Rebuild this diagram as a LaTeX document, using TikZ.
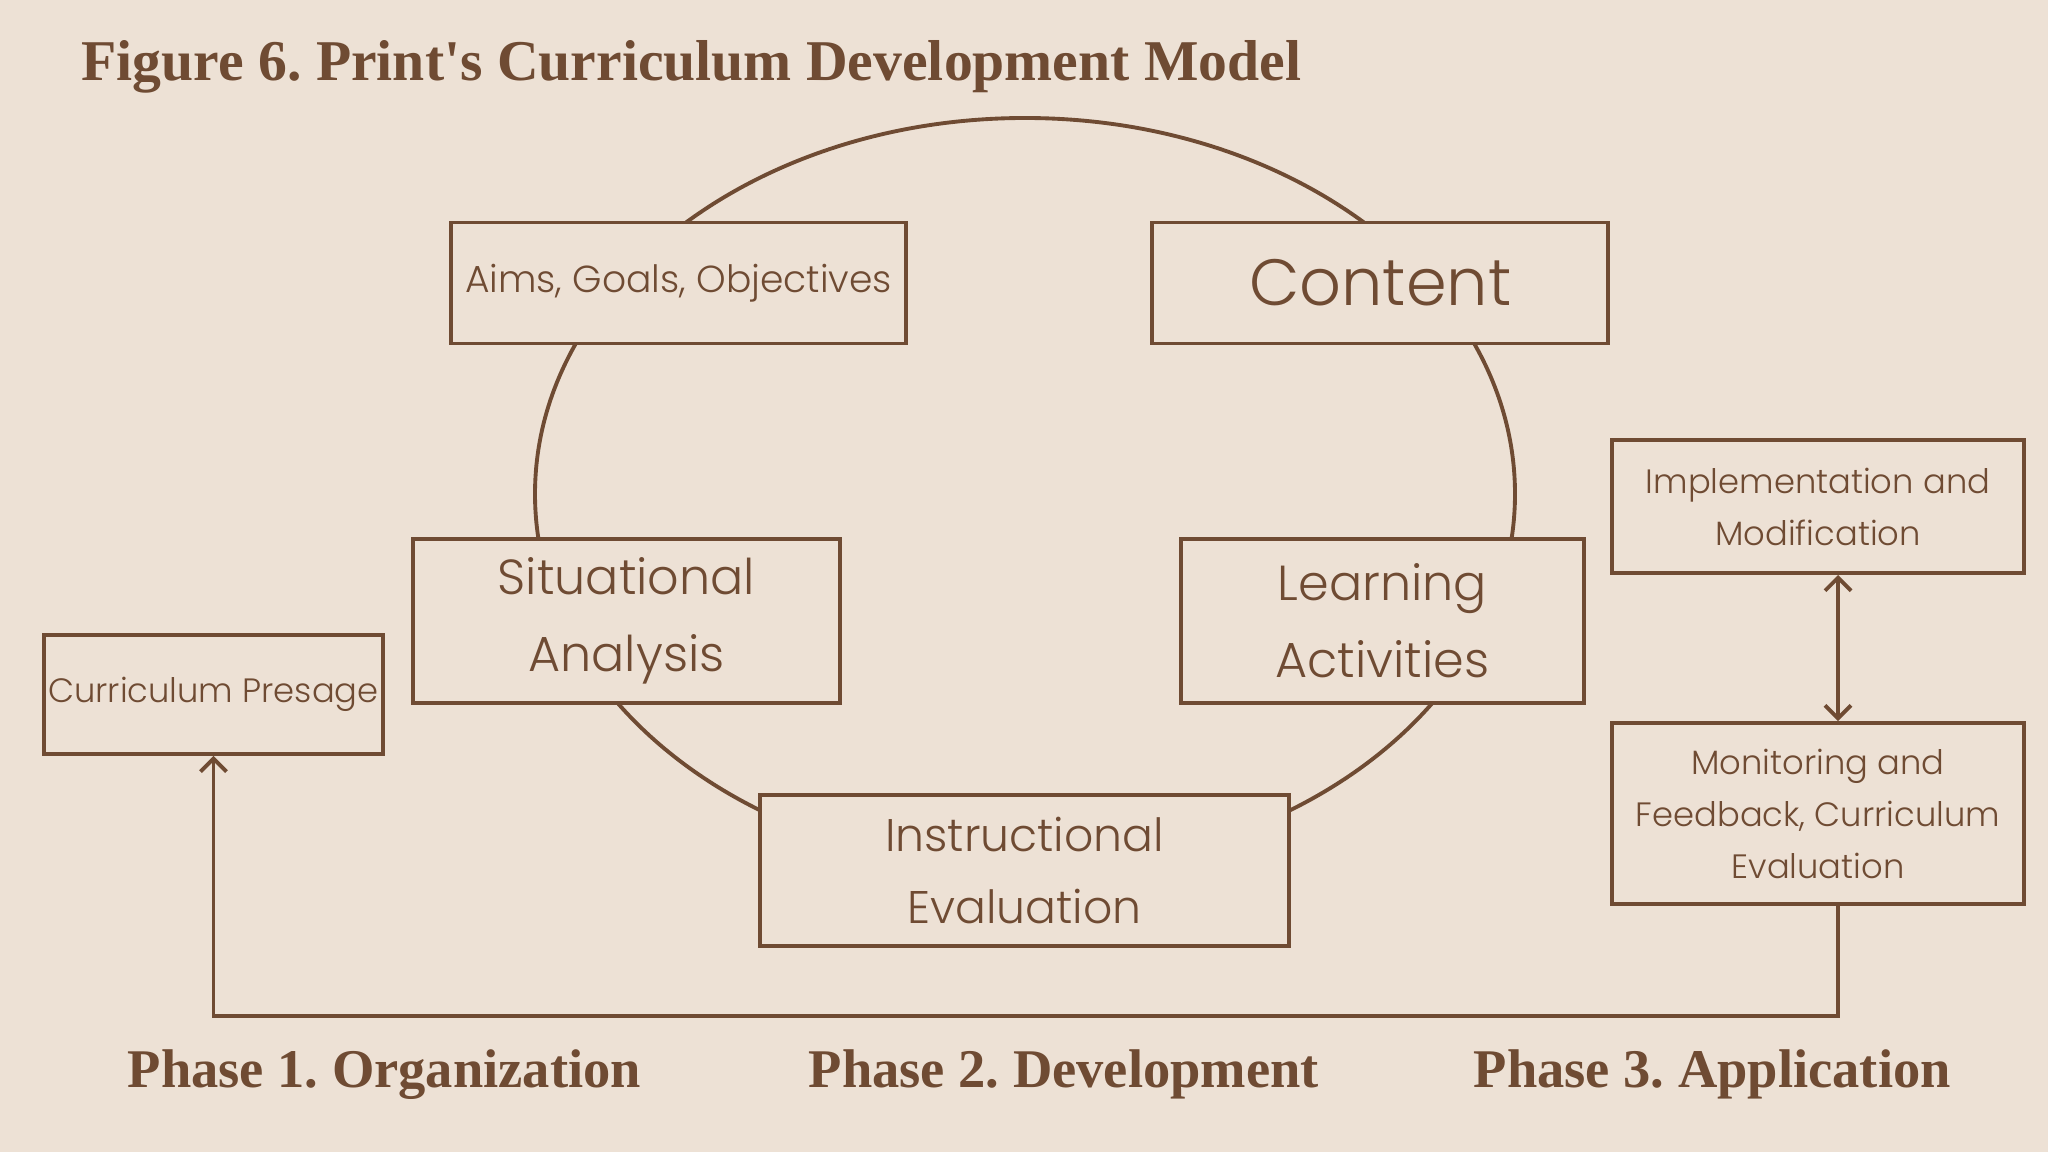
\documentclass[tikz,border=0pt]{standalone}
\usepackage{fontspec}
\setmainfont{Liberation Serif}
\newfontfamily\boxfont{Poppins}[UprightFont=* Light]
\usetikzlibrary{positioning, arrows.meta}
\usepackage{xcolor}
\definecolor{paper}{HTML}{EDE1D5}
\definecolor{bark}{HTML}{6F4B33}
\frenchspacing

\begin{document}
\begin{tikzpicture}[
                x=0.01cm, y=-0.01cm,
                box/.style={rectangle, draw=bark, line width=1.1pt, fill=paper, inner sep=0pt, align=center, text=bark},
                small/.style={box, font=\boxfont\fontsize{9.6}{14.8}\selectfont},
                medium/.style={box, font=\boxfont\fontsize{14}{22}\selectfont},
                big/.style={box, font=\boxfont\fontsize{18.6}{22}\selectfont},
                phase/.style={anchor=base west, inner sep=0pt, text=bark, font=\bfseries\fontsize{15.5}{19}\selectfont},
                arrow/.style={-{Straight Barb[length=1.3mm, width=2.6mm]}, line width=1.1pt, bark},
                twoway/.style={{Straight Barb[length=1.3mm, width=2.6mm]}-{Straight Barb[length=1.3mm, width=2.6mm]}, line width=1.1pt, bark}
            ]
            \fill[paper] (0,0) rectangle (2048,1152);
            \useasboundingbox (0,0) rectangle (2048,1152);

            \node[phase, font=\bfseries\fontsize{16.4}{19}\selectfont] (title) at (81,81) {Figure 6. Print\textquotesingle s Curriculum Development Model};

            % the cycle
            \draw[bark, line width=1.1pt] (1025,494) ellipse [x radius=490, y radius=376];

            \node[small, font=\boxfont\fontsize{10.7}{14.8}\selectfont, minimum width=4.55cm, minimum height=1.21cm] (aims) at (678.5,283) {Aims, Goals, Objectives};
            \node[big, minimum width=4.56cm, minimum height=1.21cm, right=2.42cm of aims] (content) {Content};
            \node[medium, minimum width=4.27cm, minimum height=1.64cm] (situation) at (626.5,621) {Situational\\Analysis};
            \node[medium, minimum width=4.03cm, minimum height=1.64cm] (learning) at (1382.5,621) {Learning\\Activities};
            \node[medium, font=\boxfont\fontsize{13}{20.5}\selectfont, minimum width=5.29cm, minimum height=1.51cm] (evaluation) at (1024.5,870.5) {Instructional\\Evaluation};

            \node[small, minimum width=3.39cm, minimum height=1.19cm] (presage) at (213.5,694.5) {Curriculum Presage};
            \node[small, minimum width=4.12cm, minimum height=1.33cm] (implement) at (1818,506.5) {Implementation and\\Modification};
            \node[small, minimum width=4.12cm, minimum height=1.81cm, below=1.46cm of implement] (monitor) {Monitoring and\\Feedback, Curriculum\\Evaluation};

            \draw[twoway] ([xshift=2mm]implement.south) -- ([xshift=2mm]monitor.north);
            \draw[arrow] ([xshift=2mm]monitor.south) -- ++(0,110) -| (presage.south);

            \node[phase] (organize) at (127,1087) {Phase 1. Organization};
            \node[phase] (develop) at (808,1087) {Phase 2. Development};
            \node[phase] (apply) at (1473,1087) {Phase 3. Application};
        \end{tikzpicture}
\end{document}
